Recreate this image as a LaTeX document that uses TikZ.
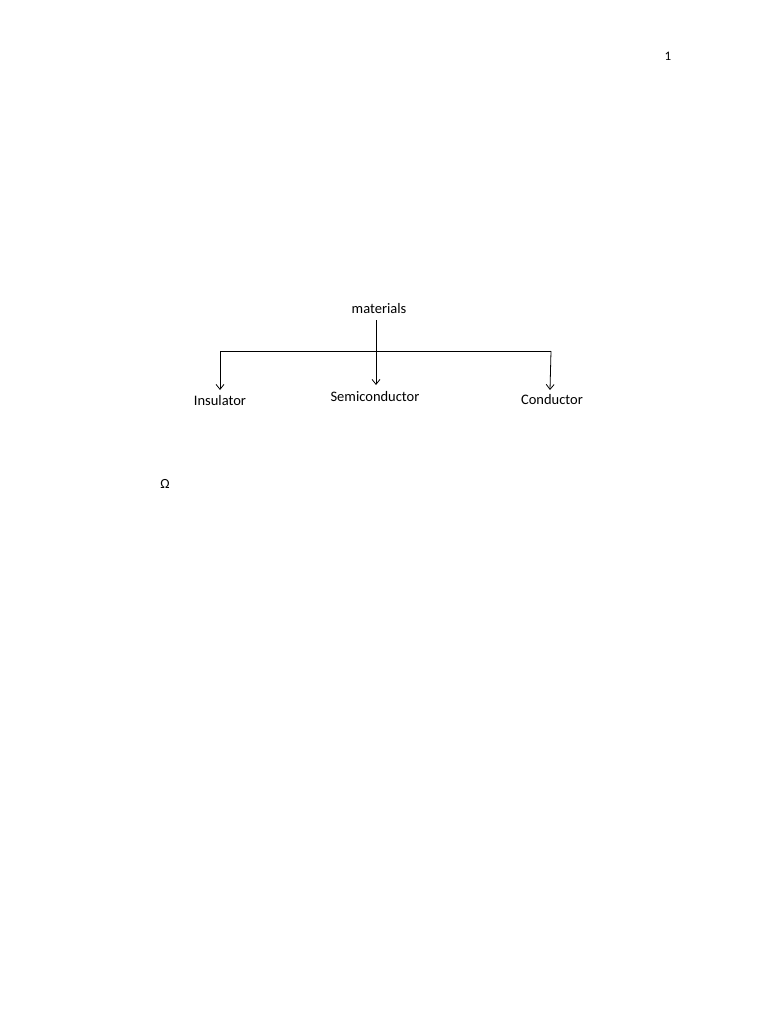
\documentclass[tikz,border=0pt]{standalone}
\usepackage{fontspec}
\setmainfont{Carlito}
\usetikzlibrary{arrows.meta}
\begin{document}
\begin{tikzpicture}[x=1pt,y=-1pt,
  lbl/.style={inner sep=0pt,font=\fontsize{14.5}{17}\selectfont},
  conn/.style={line width=0.8pt,-{Straight Barb[length=5pt,width=8pt]}}]
\useasboundingbox (0,0) rectangle (768,1024);
\fill[white] (0,0) rectangle (768,1024);
\node[lbl,font=\fontsize{13}{15}\selectfont] (pg) at (668,56) {1};
\node[lbl] (mat) at (379,309) {materials};
\node[lbl] (ins) at (220,401) {Insulator};
\node[lbl] (sem) at (375,397) {Semiconductor};
\node[lbl] (con) at (552,400) {Conductor};
\node[lbl,font=\fontsize{14}{16}\selectfont] (om) at (165,484) {Ω};
\coordinate (hl) at (220,351);
\coordinate (hr) at (551,351);
\coordinate (ms) at (376,320);
\coordinate (me) at (376,385);
\coordinate (ie) at (220,390);
\coordinate (ce) at (550,390);
\draw[line width=0.8pt] (hl) -- (hr);
\draw[conn] (ms) -- (me);
\draw[conn] (hl) -- (ie);
\draw[conn] (hr) -- (ce);
\end{tikzpicture}
\end{document}
